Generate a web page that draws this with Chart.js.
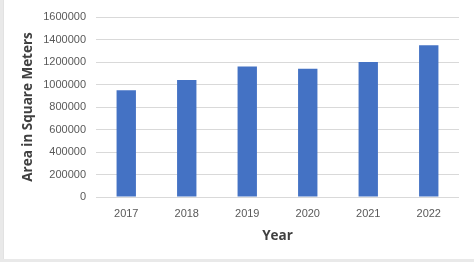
<!DOCTYPE html>
<html>
<head>
<meta charset="utf-8">
<script src="https://cdn.jsdelivr.net/npm/chart.js@4"></script>
<style>
    html, body { margin: 0; padding: 0; background: #e9e9e9; }
    #wrap { position: absolute; left: 3px; top: 0; width: 471px; height: 259px; background: #fff; border-left: 1px solid #e2e2e2; }
    canvas { position: absolute; left: -4px; top: 0; }
</style>
</head>
<body>
<div id="wrap"><canvas id="chart" width="474" height="262"></canvas></div>
<script>
    var years = ['2017', '2018', '2019', '2020', '2021', '2022'];
    var areas = [950000, 1040000, 1160000, 1140000, 1200000, 1350000];
    var yMax = 1600000;
    var yStep = 200000;

    var tickFont = { family: 'Liberation Sans', size: 11 };
    var titleFont = { family: 'Open Sans', size: 13.5, weight: 'bold' };
    var grey = '#595959';

    new Chart(document.getElementById('chart'), {
        type: 'bar',
        data: {
            labels: years,
            datasets: [{
                label: 'Area',
                data: areas,
                backgroundColor: '#4472C4',
                borderWidth: 0,
                barPercentage: 0.64,
                categoryPercentage: 0.5
            }]
        },
        options: {
            responsive: false,
            animation: false,
            layout: { padding: { top: 17, right: 15, left: 0, bottom: 0 } },
            plugins: {
                legend: { display: false },
                tooltip: { enabled: false }
            },
            scales: {
                x: {
                    grid: { display: false, drawTicks: false },
                    border: { display: false },
                    ticks: { color: grey, font: tickFont, padding: 10 },
                    title: { display: true, text: 'Year', color: '#404040', font: titleFont, padding: { top: 6, bottom: 18 } },
                    afterFit: function (scale) { scale.height = 65; }
                },
                y: {
                    min: 0,
                    max: yMax,
                    grid: { color: '#d9d9d9', drawTicks: false, lineWidth: 1 },
                    border: { display: false },
                    ticks: {
                        stepSize: yStep,
                        color: grey,
                        font: tickFont,
                        padding: 10,
                        callback: function (value) { return String(value); }
                    },
                    title: { display: true, text: 'Area in Square Meters', color: '#404040', font: titleFont, padding: { top: 20, bottom: 0 } },
                    afterFit: function (scale) { scale.width = 96; }
                }
            }
        }
    });
</script>
</body>
</html>
